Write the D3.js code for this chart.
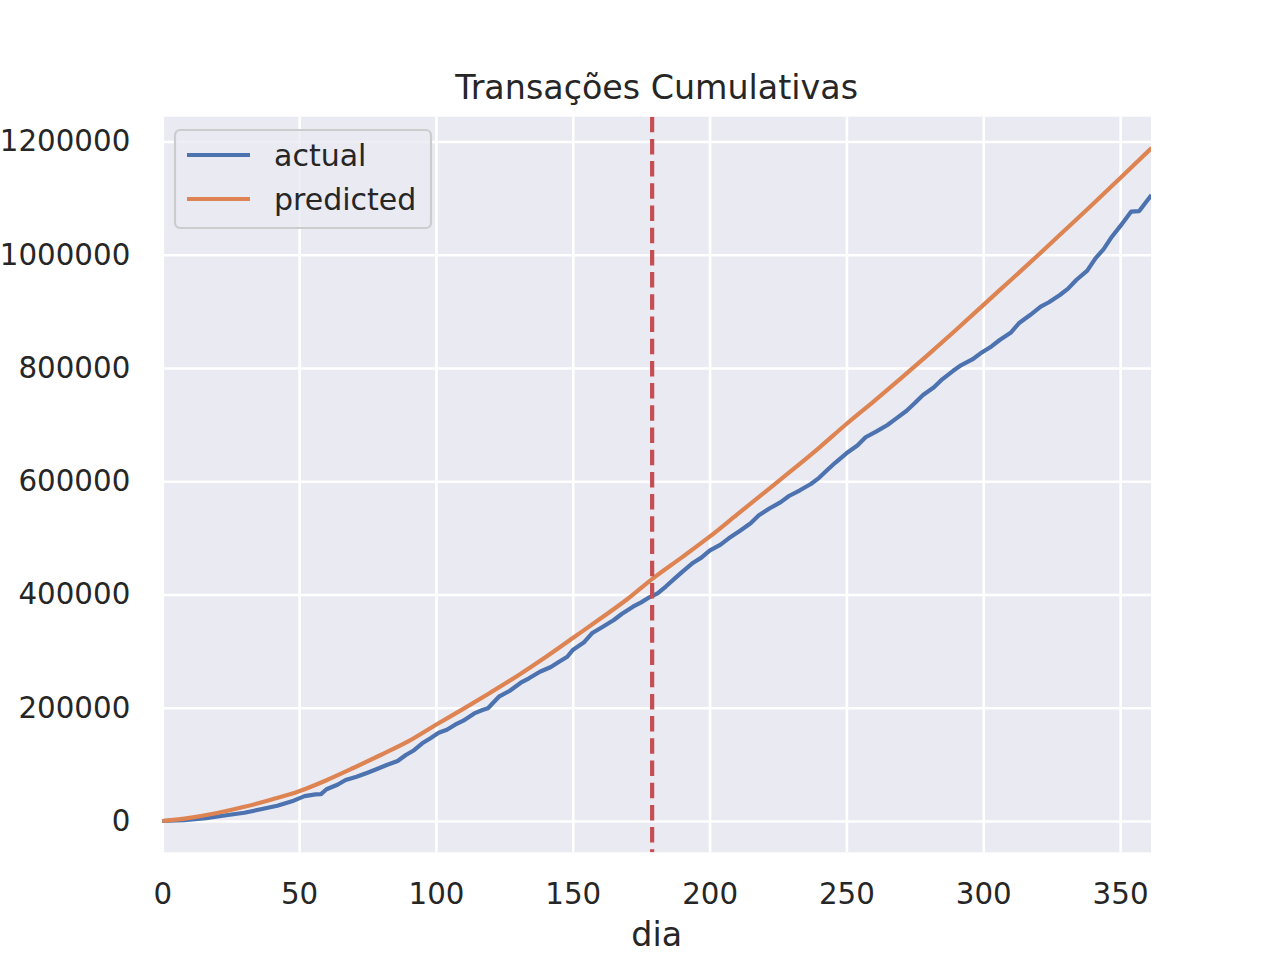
<!DOCTYPE html>
<html>
<head>
<meta charset="utf-8">
<script src="https://cdn.jsdelivr.net/npm/d3@7"></script>
<style>
  body { margin: 0; background: #ffffff; }
  svg { display: block; font-family: "DejaVu Sans", sans-serif; }
</style>
</head>
<body>
<svg width="1280" height="960"></svg>
<script>
// data
const actualDays = [0, 8, 16, 24, 30, 36, 42, 48, 52, 56, 58, 60, 64, 67, 71, 75, 78, 82, 86, 89,
    92, 95, 98, 101, 104, 107, 110, 114, 117, 119, 123, 127, 131, 134, 138, 142, 145, 148, 150, 154,
    157, 161, 165, 168, 172, 175, 178, 181, 184, 187, 190, 194, 197, 200, 204, 207, 211, 215, 218, 222,
    226, 229, 233, 237, 240, 243, 246, 250, 254, 257, 261, 265, 268, 272, 275, 278, 282, 285, 289, 292,
    296, 299, 303, 306, 310, 313, 317, 321, 324, 328, 331, 334, 338, 341, 344, 347, 350, 354, 357, 361];
const actualValues = [0, 1500, 5000, 10600, 14500, 20700, 27000, 35900, 44000, 47000, 47500, 56000, 64000, 72400, 78000, 85300, 91000, 98900, 106000, 116500,
    125000, 137200, 146000, 155700, 161000, 170000, 177100, 190000, 196000, 199000, 219500, 230000, 244200, 252000, 263600, 272000, 281300, 290000, 302000, 315000,
    331400, 343000, 354900, 366000, 378400, 386000, 395000, 402000, 414000, 427000, 440000, 456100, 465000, 477300, 488000, 499200, 512000, 525700, 540000, 552200,
    563000, 573900, 584000, 595100, 606000, 619800, 633000, 649300, 663000, 677600, 688000, 699300, 710000, 724500, 738000, 752300, 766000, 780000, 795000, 805200,
    815000, 825800, 838000, 849400, 862000, 878900, 893000, 908200, 916000, 928800, 940000, 955300, 972000, 993600, 1010000, 1031800, 1050000, 1076000, 1077000, 1102500];

const predictedDays = [0, 10, 20, 30, 40, 50, 60, 70, 80, 90, 100, 110, 120, 130, 140, 150, 160, 170, 180,
    190, 200, 210, 220, 230, 240, 250, 260, 270, 280, 290, 300, 310, 320, 330, 340, 350, 361];
const predictedValues = [0, 5500, 14000, 25000, 38000, 52500, 72000, 94000, 117000, 141000, 170000, 198000, 227000, 257000, 289000, 323000, 357000, 392000, 431000,
    466000, 502000, 541000, 580000, 619000, 659000, 701000, 741000, 782000, 824000, 867000, 911000, 955000, 999000, 1044000, 1089000, 1135000, 1186000];

const splitDay = 179;
const xTicks = [0, 50, 100, 150, 200, 250, 300, 350];
const yTicks = [0, 200000, 400000, 600000, 800000, 1000000, 1200000];
const seriesNames = ['actual', 'predicted'];
const seriesColors = ['#4C72B0', '#DD8452'];

const svg = d3.select('svg');
const margin = { top: 116.7, right: 129, bottom: 107.7, left: 162.3 };
const width = +svg.attr('width') - margin.left - margin.right;
const height = +svg.attr('height') - margin.top - margin.bottom;
const textColor = '#262626';

const x = d3.scaleLinear().domain([0, 361.3]).range([0, width]);
const y = d3.scaleLinear().domain([-55300, 1243700]).range([height, 0]);

const g = svg.append('g').attr('transform', `translate(${margin.left},${margin.top})`);

// plot background
g.append('rect')
    .attr('width', width)
    .attr('height', height)
    .attr('fill', '#EAEAF2');

// grid + ticks
const xAxis = g.append('g')
    .attr('transform', `translate(0,${height})`)
    .call(d3.axisBottom(x).tickValues(xTicks).tickSize(-height).tickPadding(31).tickFormat(d3.format('d')));
const yAxis = g.append('g')
    .call(d3.axisLeft(y).tickValues(yTicks).tickSize(-width).tickPadding(32).tickFormat(d3.format('d')));

[xAxis, yAxis].forEach(ax => {
    ax.select('.domain').remove();
    ax.selectAll('line').attr('stroke', '#ffffff').attr('stroke-width', 2.6);
    ax.selectAll('text')
        .attr('fill', textColor)
        .style('font-size', '29.3px')
        .style('font-family', '"DejaVu Sans", sans-serif');
});

// lines
g.append('clipPath').attr('id', 'plot-clip')
    .append('rect').attr('width', width).attr('height', height);

const line = d3.line()
    .x(d => x(d[0]))
    .y(d => y(d[1]));

const plot = g.append('g').attr('clip-path', 'url(#plot-clip)');

plot.append('path')
    .datum(actualDays.map((d, i) => [d, actualValues[i]]))
    .attr('fill', 'none')
    .attr('stroke', seriesColors[0])
    .attr('stroke-width', 4.2)
    .attr('stroke-linejoin', 'round')
    .attr('stroke-linecap', 'square')
    .attr('d', line);

plot.append('path')
    .datum(predictedDays.map((d, i) => [d, predictedValues[i]]))
    .attr('fill', 'none')
    .attr('stroke', seriesColors[1])
    .attr('stroke-width', 4.2)
    .attr('stroke-linejoin', 'round')
    .attr('stroke-linecap', 'square')
    .attr('d', d3.line().curve(d3.curveMonotoneX).x(d => x(d[0])).y(d => y(d[1])));

// split marker
plot.append('line')
    .attr('x1', x(splitDay)).attr('x2', x(splitDay))
    .attr('y1', 0).attr('y2', height)
    .attr('stroke', '#C44E52')
    .attr('stroke-width', 4.2)
    .attr('stroke-dasharray', '15.5,6.7');

// title and axis label
svg.append('text')
    .attr('x', margin.left + width / 2)
    .attr('y', 99)
    .attr('text-anchor', 'middle')
    .attr('fill', textColor)
    .style('font-size', '33.3px')
    .text('Transações Cumulativas');

svg.append('text')
    .attr('x', margin.left + width / 2)
    .attr('y', 946)
    .attr('text-anchor', 'middle')
    .attr('fill', textColor)
    .style('font-size', '33.3px')
    .text('dia');

// legend
const legend = svg.append('g').attr('transform', 'translate(175,130)');
legend.append('rect')
    .attr('width', 256)
    .attr('height', 98)
    .attr('rx', 5)
    .attr('fill', '#EAEAF2')
    .attr('fill-opacity', 0.8)
    .attr('stroke', '#CCCCCC')
    .attr('stroke-width', 2.2);

seriesNames.forEach((name, i) => {
    const ly = 25 + i * 44;
    legend.append('line')
        .attr('x1', 12).attr('x2', 75)
        .attr('y1', ly).attr('y2', ly)
        .attr('stroke', seriesColors[i])
        .attr('stroke-width', 4.2);
    legend.append('text')
        .attr('x', 99)
        .attr('y', ly + 11)
        .attr('fill', textColor)
        .style('font-size', '30px')
        .text(name);
});
</script>
</body>
</html>
